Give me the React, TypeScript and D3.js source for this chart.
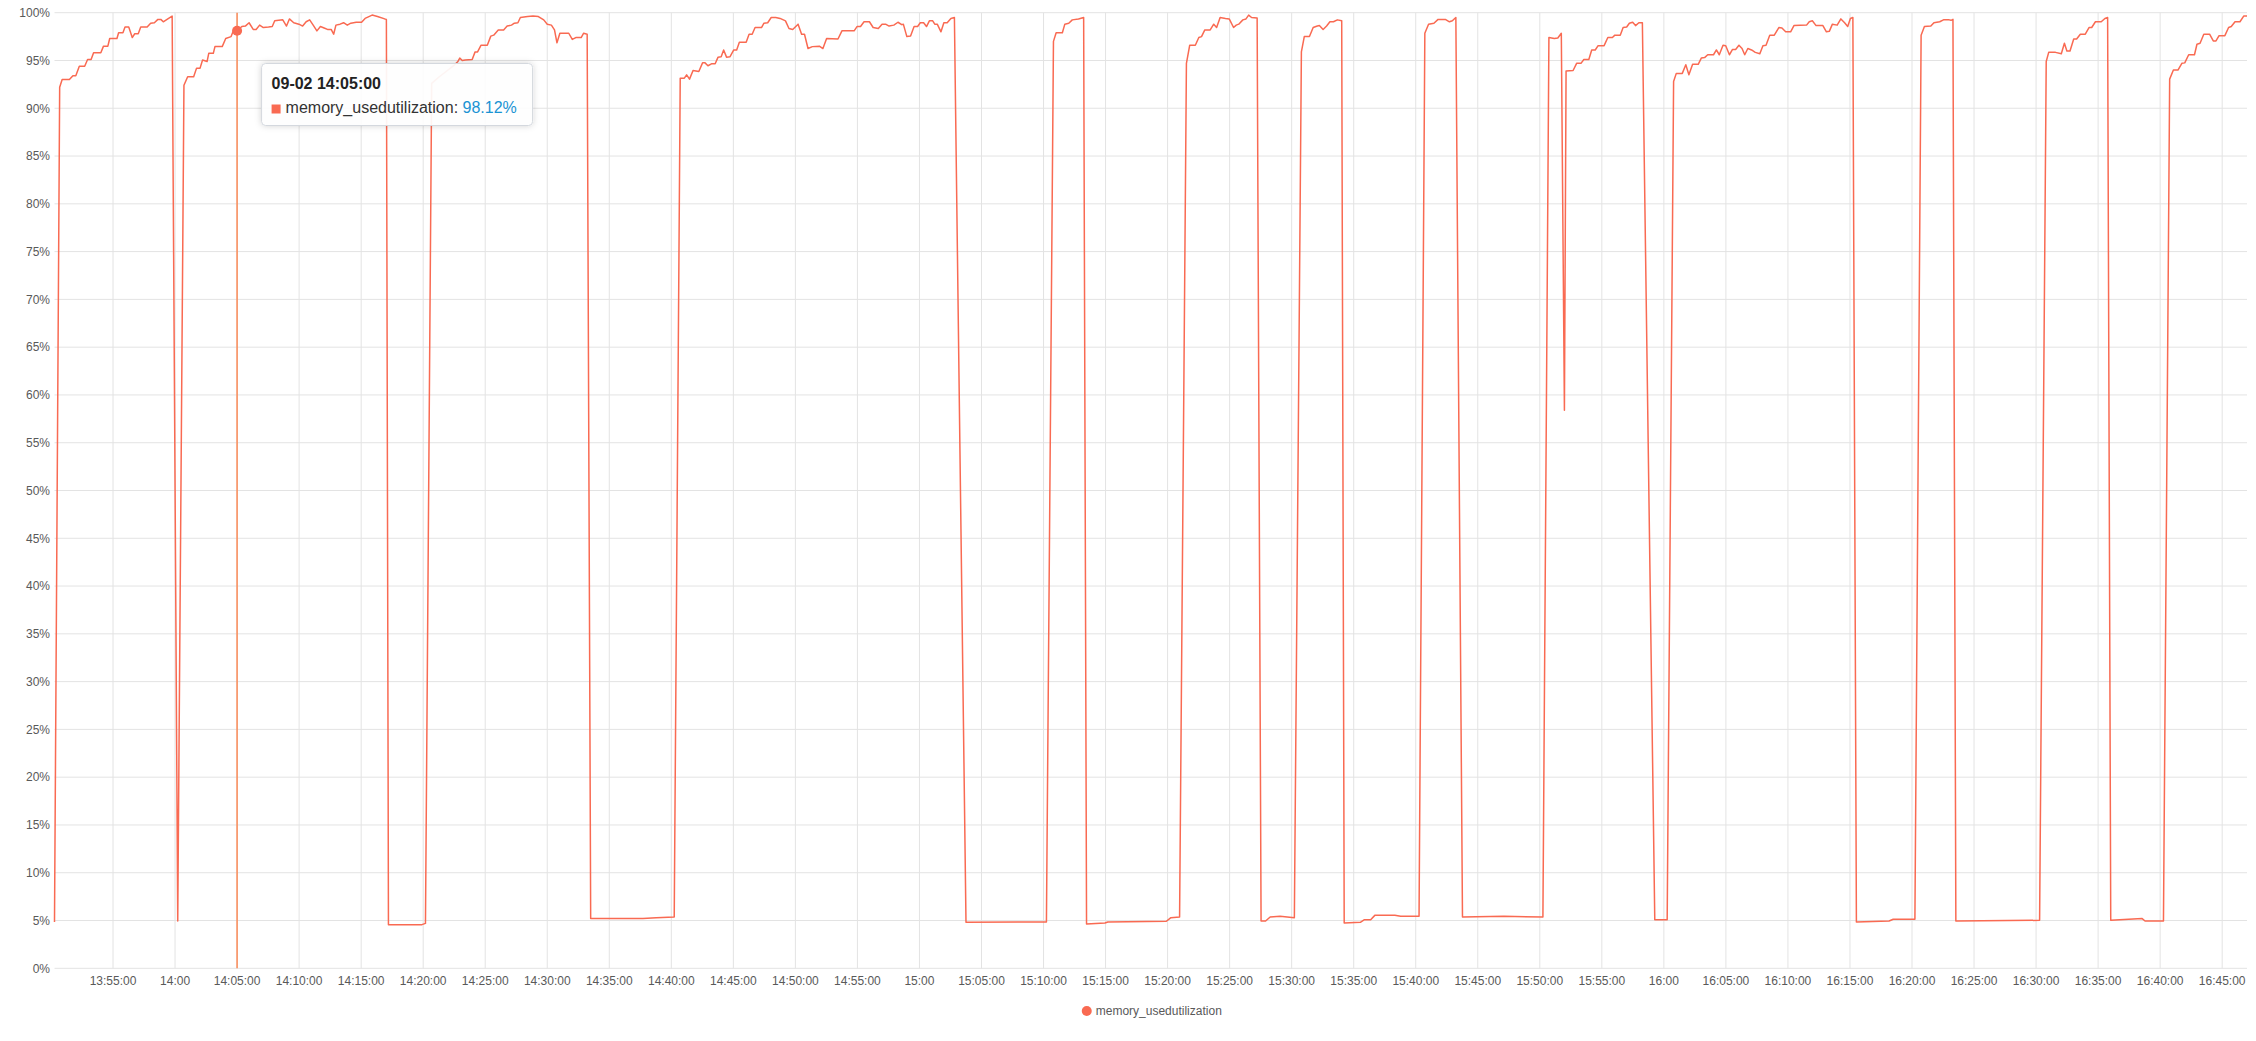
import { line, scaleLinear, scaleTime, timeParse } from "d3";

const seriesName = "memory_usedutilization";
const hoverDay = "09-02";
const hoverTime = "14:05:00";

type Sample = [string, number];

// each run is a stretch of the memory curve: high bursts and idle floors
const startup: Sample[] = [
  ["13:50:17", 4.85], ["13:50:42", 92.2], ["13:50:54", 93.0], ["13:51:29", 93.0],
  ["13:51:46", 93.4], ["13:52:00", 93.4], ["13:52:17", 94.4], ["13:52:43", 94.4],
  ["13:52:57", 95.1], ["13:53:14", 95.1], ["13:53:26", 95.8], ["13:54:01", 95.8],
  ["13:54:14", 96.5], ["13:54:35", 96.5], ["13:54:44", 97.3], ["13:55:19", 97.3],
  ["13:55:27", 97.9], ["13:55:48", 97.9], ["13:55:58", 98.5], ["13:56:16", 98.5],
  ["13:56:33", 97.4], ["13:56:45", 97.8], ["13:57:02", 97.8], ["13:57:14", 98.5],
  ["13:57:45", 98.5], ["13:58:02", 98.9], ["13:58:20", 98.95], ["13:58:37", 99.3],
  ["13:58:51", 99.3], ["13:59:03", 99.05], ["13:59:25", 99.35], ["13:59:46", 99.65],
  ["14:00:13", 4.95],
];

const burst1: Sample[] = [
  ["14:00:43", 92.4], ["14:01:01", 93.3], ["14:01:30", 93.3], ["14:01:44", 94.2],
  ["14:02:01", 94.2], ["14:02:13", 95.05], ["14:02:35", 94.9], ["14:02:43", 95.75],
  ["14:03:05", 95.75], ["14:03:13", 96.45], ["14:03:48", 96.45], ["14:04:05", 97.3],
  ["14:04:31", 97.5], ["14:04:40", 98.0], ["14:05:00", 98.12], ["14:05:23", 98.55],
  ["14:05:40", 98.6], ["14:05:58", 98.95], ["14:06:18", 98.25], ["14:06:32", 98.25],
  ["14:06:49", 98.7], ["14:07:07", 98.45], ["14:07:32", 98.5], ["14:07:50", 98.55],
  ["14:08:02", 99.15], ["14:08:41", 99.25], ["14:08:59", 98.6], ["14:09:13", 99.35],
  ["14:09:34", 98.95], ["14:09:59", 98.8], ["14:10:17", 98.6], ["14:10:34", 99.05],
  ["14:10:51", 99.25], ["14:11:08", 98.7], ["14:11:26", 98.1], ["14:11:43", 98.55],
  ["14:12:01", 98.4], ["14:12:17", 98.25], ["14:12:35", 98.25], ["14:12:47", 97.75],
  ["14:12:58", 98.7], ["14:13:18", 98.8], ["14:13:35", 98.95], ["14:13:53", 98.7],
  ["14:14:10", 98.9], ["14:14:36", 99.0], ["14:15:02", 99.0], ["14:15:19", 99.4],
  ["14:15:53", 99.75], ["14:16:19", 99.6], ["14:16:54", 99.35], ["14:17:02", 99.3],
];

const idle1: Sample[] = [["14:17:12", 4.57], ["14:19:54", 4.57], ["14:20:11", 4.7]];

const burst2: Sample[] = [
  ["14:20:41", 92.6], ["14:21:18", 93.3], ["14:21:54", 93.9], ["14:22:24", 94.4],
  ["14:22:48", 94.9], ["14:22:57", 95.25], ["14:23:09", 95.0], ["14:23:23", 95.05],
  ["14:23:57", 95.1], ["14:24:11", 95.9], ["14:24:23", 95.9], ["14:24:40", 96.6],
  ["14:25:10", 96.6], ["14:25:27", 97.55], ["14:25:41", 97.65], ["14:26:03", 98.2],
  ["14:26:29", 98.2], ["14:26:46", 98.6], ["14:27:07", 98.7], ["14:27:21", 98.9],
  ["14:27:38", 98.95], ["14:27:50", 99.5], ["14:28:25", 99.6], ["14:28:51", 99.65],
  ["14:29:17", 99.6], ["14:29:43", 99.25], ["14:30:00", 98.8], ["14:30:20", 98.7],
  ["14:30:35", 98.2], ["14:30:47", 96.85], ["14:31:01", 97.85], ["14:31:44", 97.85],
  ["14:32:01", 97.2], ["14:32:18", 97.4], ["14:32:44", 97.4], ["14:32:56", 97.85],
  ["14:33:13", 97.75],
];

const idle2: Sample[] = [
  ["14:33:30", 5.2], ["14:37:43", 5.2], ["14:38:47", 5.3], ["14:40:14", 5.37],
];

const burst3: Sample[] = [
  ["14:40:43", 93.15], ["14:41:03", 93.15], ["14:41:14", 93.5], ["14:41:28", 93.05],
  ["14:41:45", 93.95], ["14:42:13", 93.85], ["14:42:31", 94.75], ["14:42:43", 94.75],
  ["14:42:57", 94.45], ["14:43:14", 94.65], ["14:43:32", 94.65], ["14:43:46", 95.35],
  ["14:44:01", 95.4], ["14:44:13", 96.1], ["14:44:27", 95.35], ["14:44:44", 95.4],
  ["14:45:02", 96.1], ["14:45:16", 96.1], ["14:45:29", 96.9], ["14:46:02", 96.9],
  ["14:46:16", 97.75], ["14:46:31", 97.75], ["14:46:45", 98.45], ["14:47:16", 98.45],
  ["14:47:28", 98.9], ["14:47:46", 98.95], ["14:48:03", 99.5], ["14:48:25", 99.5],
  ["14:48:46", 99.4], ["14:49:12", 99.15], ["14:49:29", 98.35], ["14:49:47", 98.25],
  ["14:50:13", 98.8], ["14:50:30", 97.75], ["14:50:44", 97.75], ["14:51:01", 96.25],
  ["14:51:22", 96.45], ["14:51:56", 96.5], ["14:52:13", 96.25], ["14:52:31", 97.3],
  ["14:53:26", 97.25], ["14:53:45", 98.1], ["14:54:44", 98.1], ["14:54:58", 98.55],
  ["14:55:15", 98.55], ["14:55:32", 99.05], ["14:55:58", 99.05], ["14:56:16", 98.45],
  ["14:56:41", 98.35], ["14:56:59", 98.8], ["14:57:16", 98.8], ["14:57:33", 98.6],
  ["14:57:56", 98.7], ["14:58:16", 99.0], ["14:58:34", 98.75], ["14:58:42", 98.8],
  ["14:58:59", 97.5], ["14:59:17", 97.55], ["14:59:34", 98.55], ["14:59:51", 98.55],
  ["15:00:04", 98.95], ["15:00:20", 98.95], ["15:00:34", 98.55], ["15:00:48", 99.15],
  ["15:01:04", 99.15], ["15:01:14", 98.8], ["15:01:26", 98.8], ["15:01:44", 98.0],
  ["15:01:58", 98.95], ["15:02:14", 98.95], ["15:02:32", 99.4], ["15:02:49", 99.5],
];

const idle3: Sample[] = [["15:03:45", 4.81], ["15:10:14", 4.85]];

const burst4: Sample[] = [
  ["15:10:48", 97.0], ["15:11:01", 97.9], ["15:11:31", 97.9], ["15:11:43", 98.8],
  ["15:12:02", 98.9], ["15:12:19", 99.25], ["15:12:49", 99.35], ["15:13:14", 99.5],
];

const idle4: Sample[] = [
  ["15:13:28", 4.64], ["15:14:57", 4.74], ["15:15:11", 4.85], ["15:19:54", 4.92],
  ["15:20:16", 5.3], ["15:20:58", 5.37],
];

const burst5: Sample[] = [
  ["15:21:31", 94.7], ["15:21:47", 96.6], ["15:22:14", 96.6], ["15:22:31", 97.4],
  ["15:22:44", 97.5], ["15:23:00", 98.2], ["15:23:26", 98.2], ["15:23:43", 98.8],
  ["15:23:57", 98.45], ["15:24:14", 99.5], ["15:24:40", 99.4], ["15:24:58", 99.35],
  ["15:25:19", 98.45], ["15:25:32", 98.7], ["15:25:44", 98.8], ["15:26:04", 99.25],
  ["15:26:19", 99.35], ["15:26:32", 99.75], ["15:26:46", 99.5], ["15:27:13", 99.45],
];

const idle5: Sample[] = [
  ["15:27:32", 4.95], ["15:27:54", 4.95], ["15:28:16", 5.37], ["15:29:04", 5.44],
  ["15:30:13", 5.3],
];

const burst6: Sample[] = [
  ["15:30:47", 95.9], ["15:31:01", 97.5], ["15:31:26", 97.5], ["15:31:44", 98.45],
  ["15:32:04", 98.6], ["15:32:14", 98.65], ["15:32:32", 98.25], ["15:32:49", 98.6],
  ["15:33:05", 99.05], ["15:33:22", 99.05], ["15:33:41", 99.25], ["15:34:02", 99.15],
];

const idle6: Sample[] = [
  ["15:34:14", 4.74], ["15:35:32", 4.81], ["15:35:52", 5.09], ["15:36:22", 5.09],
  ["15:36:42", 5.54], ["15:38:19", 5.54], ["15:38:47", 5.44], ["15:40:16", 5.44],
];

const burst7: Sample[] = [
  ["15:40:44", 97.85], ["15:41:02", 98.8], ["15:41:28", 98.9], ["15:41:48", 99.3],
  ["15:42:23", 99.3], ["15:42:43", 99.05], ["15:42:57", 99.15], ["15:43:14", 99.5],
];

const idle7: Sample[] = [["15:43:46", 5.37], ["15:47:06", 5.44], ["15:50:15", 5.37]];

const burst8: Sample[] = [
  ["15:50:44", 97.4], ["15:51:10", 97.3], ["15:51:27", 97.35], ["15:51:44", 97.85],
  ["15:51:59", 58.4], ["15:52:07", 93.9], ["15:52:41", 93.95], ["15:52:58", 94.7],
  ["15:53:19", 94.7], ["15:53:33", 95.1], ["15:53:57", 95.1], ["15:54:11", 96.1],
  ["15:54:28", 96.1], ["15:54:42", 96.55], ["15:55:11", 96.55], ["15:55:29", 97.4],
  ["15:55:51", 97.4], ["15:56:03", 97.65], ["15:56:29", 97.65], ["15:56:43", 98.45],
  ["15:57:00", 98.5], ["15:57:13", 98.9], ["15:57:29", 99.0], ["15:57:43", 98.65],
  ["15:57:59", 98.95], ["15:58:16", 98.95],
];

const idle8: Sample[] = [["15:59:16", 5.09], ["16:00:16", 5.09]];

const burst9: Sample[] = [
  ["16:00:47", 92.8], ["16:01:00", 93.65], ["16:01:29", 93.65], ["16:01:46", 94.55],
  ["16:02:01", 93.5], ["16:02:19", 94.6], ["16:02:46", 94.6], ["16:03:01", 95.25],
  ["16:03:17", 95.3], ["16:03:32", 95.6], ["16:04:00", 95.6], ["16:04:14", 96.1],
  ["16:04:28", 95.6], ["16:04:46", 96.6], ["16:04:59", 96.55], ["16:05:17", 95.6],
  ["16:05:32", 96.15], ["16:05:47", 96.15], ["16:06:03", 96.6], ["16:06:18", 96.25],
  ["16:06:31", 95.6], ["16:06:46", 96.25], ["16:07:04", 96.1], ["16:07:22", 95.85],
  ["16:07:44", 95.7], ["16:07:59", 96.55], ["16:08:14", 96.6], ["16:08:32", 97.65],
  ["16:08:54", 97.65], ["16:09:16", 98.45], ["16:09:31", 98.4], ["16:09:49", 98.0],
  ["16:10:13", 98.0], ["16:10:29", 98.65], ["16:11:30", 98.7], ["16:11:43", 99.05],
  ["16:11:58", 99.15], ["16:12:16", 98.65], ["16:12:49", 98.65], ["16:13:06", 98.0],
  ["16:13:20", 98.05], ["16:13:35", 98.8], ["16:13:58", 98.7], ["16:14:16", 99.35],
  ["16:14:34", 98.95], ["16:14:49", 98.55], ["16:15:02", 99.4], ["16:15:14", 99.5],
];

const idle9: Sample[] = [
  ["16:15:31", 4.85], ["16:18:09", 4.95], ["16:18:29", 5.13], ["16:20:14", 5.13],
];

const burst10: Sample[] = [
  ["16:20:44", 97.65], ["16:21:00", 98.55], ["16:21:31", 98.6], ["16:21:46", 98.95],
  ["16:22:14", 99.05], ["16:22:32", 99.25], ["16:23:00", 99.25], ["16:23:09", 99.2],
  ["16:23:18", 99.3],
];

const idle10: Sample[] = [["16:23:32", 4.95], ["16:30:17", 5.02]];

const burst11: Sample[] = [
  ["16:30:49", 94.9], ["16:31:01", 95.85], ["16:31:34", 95.85], ["16:32:02", 95.7],
  ["16:32:17", 96.8], ["16:32:29", 96.0], ["16:32:44", 96.0], ["16:33:02", 97.25],
  ["16:33:16", 97.25], ["16:33:34", 97.75], ["16:33:58", 97.75], ["16:34:16", 98.45],
  ["16:34:29", 98.45], ["16:34:47", 99.05], ["16:35:15", 99.05], ["16:35:33", 99.4],
  ["16:35:46", 99.5],
];

const idle11: Sample[] = [
  ["16:36:01", 5.02], ["16:38:33", 5.2], ["16:38:47", 4.95], ["16:40:16", 4.95],
];

const burst12: Sample[] = [
  ["16:40:46", 93.05], ["16:41:04", 94.0], ["16:41:26", 94.0], ["16:41:45", 94.7],
  ["16:41:59", 94.75], ["16:42:18", 95.6], ["16:42:46", 95.6], ["16:42:58", 96.7],
  ["16:43:13", 96.8], ["16:43:31", 97.75], ["16:43:59", 97.75], ["16:44:17", 97.05],
  ["16:44:30", 97.05], ["16:44:45", 97.6], ["16:45:13", 97.6], ["16:45:31", 98.45],
  ["16:45:44", 98.55], ["16:46:02", 99.05], ["16:46:26", 99.05], ["16:46:44", 99.65],
  ["16:47:00", 99.65],
];

const runs = [
  startup, burst1, idle1, burst2, idle2, burst3, idle3, burst4, idle4, burst5, idle5,
  burst6, idle6, burst7, idle7, burst8, idle8, burst9, idle9, burst10, idle10,
  burst11, idle11, burst12,
];

const xTickLabels = [
  "13:55:00", "14:00", "14:05:00", "14:10:00", "14:15:00", "14:20:00", "14:25:00",
  "14:30:00", "14:35:00", "14:40:00", "14:45:00", "14:50:00", "14:55:00", "15:00",
  "15:05:00", "15:10:00", "15:15:00", "15:20:00", "15:25:00", "15:30:00", "15:35:00",
  "15:40:00", "15:45:00", "15:50:00", "15:55:00", "16:00", "16:05:00", "16:10:00",
  "16:15:00", "16:20:00", "16:25:00", "16:30:00", "16:35:00", "16:40:00", "16:45:00",
];

const yTicks = [0, 5, 10, 15, 20, 25, 30, 35, 40, 45, 50, 55, 60, 65, 70, 75, 80, 85, 90, 95, 100];

const parseFull = timeParse("%H:%M:%S");
const parseShort = timeParse("%H:%M");

export default function App() {
  const width = 2256;
  const height = 1041;
  const plotLeft = 54.5;
  const plotRight = 2247;
  const plotTop = 12.7;
  const plotBottom = 968.3;
  const lineColor = "#f96a52";
  const gridColor = "#e3e3e3";
  const labelColor = "#595959";
  const font = "'Liberation Sans', Arial, Helvetica, sans-serif";

  const samples = runs.flat().map(([time, value]) => ({ time: parseFull(time)!, value }));

  const x = scaleTime()
    .domain([samples[0].time, samples[samples.length - 1].time])
    .range([plotLeft, plotRight]);

  const y = scaleLinear().domain([0, 100]).range([plotBottom, plotTop]);

  const memoryLine = line<(typeof samples)[number]>()
    .x((d) => x(d.time))
    .y((d) => y(d.value))(samples);

  const hover = samples.find((d) => +d.time === +parseFull(hoverTime)!)!;
  const hoverX = x(hover.time);
  const tipX = hoverX + 24.5;
  const tipY = 63.5;

  const legendCenter = (plotLeft + plotRight) / 2;

  return (
    <div style={{ position: "absolute", left: 0, top: 0, width, height, background: "#fff" }}>
      <svg width={width} height={height} style={{ display: "block" }} fontFamily={font}>
        <defs>
          <filter id="tip-shadow" x="-10%" y="-30%" width="120%" height="160%">
            <feDropShadow dx="0" dy="0" stdDeviation="3" floodColor="#000" floodOpacity="0.18" />
          </filter>
        </defs>

        {yTicks.map((tick) => (
          <g key={tick}>
            <line
              x1={plotLeft}
              x2={plotRight}
              y1={y(tick)}
              y2={y(tick)}
              stroke={gridColor}
              strokeWidth={1}
            />
            <text
              x={plotLeft - 4.5}
              y={y(tick) + 4.3}
              textAnchor="end"
              fontSize={12}
              fill={labelColor}
            >
              {tick}%
            </text>
          </g>
        ))}

        {xTickLabels.map((label) => {
          const tickTime = parseFull(label) ?? parseShort(label)!;
          const tx = x(tickTime);
          return (
            <g key={label}>
              <line x1={tx} x2={tx} y1={plotTop} y2={plotBottom} stroke={gridColor} strokeWidth={1} />
              <text x={tx} y={plotBottom + 16.5} textAnchor="middle" fontSize={12} fill={labelColor}>
                {label}
              </text>
            </g>
          );
        })}

        {memoryLine ? (
          <path d={memoryLine} fill="none" stroke={lineColor} strokeWidth={1.5} strokeLinejoin="round" />
        ) : null}

        <line x1={hoverX} x2={hoverX} y1={plotTop} y2={plotBottom} stroke="#fb8a57" strokeWidth={1.5} />
        <circle cx={hoverX} cy={y(hover.value)} r={5} fill={lineColor} />

        <g transform={`translate(${tipX},${tipY})`}>
          <rect
            width={271}
            height={62}
            rx={4}
            fill="#fff"
            fillOpacity={0.92}
            stroke="#d4d8de"
            strokeWidth={1}
            filter="url(#tip-shadow)"
          />
          <text x={10} y={25} fontSize={16} fontWeight="bold" fill="#222">
            {hoverDay} {hoverTime}
          </text>
          <rect x={10} y={41} width={9} height={9} fill={lineColor} />
          <text x={24} y={49.5} fontSize={16} fill="#333">
            {seriesName}:{" "}
            <tspan fill="#1a93d3">{hover.value.toFixed(2)}%</tspan>
          </text>
        </g>

        <g transform={`translate(${legendCenter},1011)`}>
          <circle cx={-64} cy={0} r={5} fill={lineColor} />
          <text x={-55} y={4.2} fontSize={12} fill={labelColor}>
            {seriesName}
          </text>
        </g>
      </svg>
    </div>
  );
}
